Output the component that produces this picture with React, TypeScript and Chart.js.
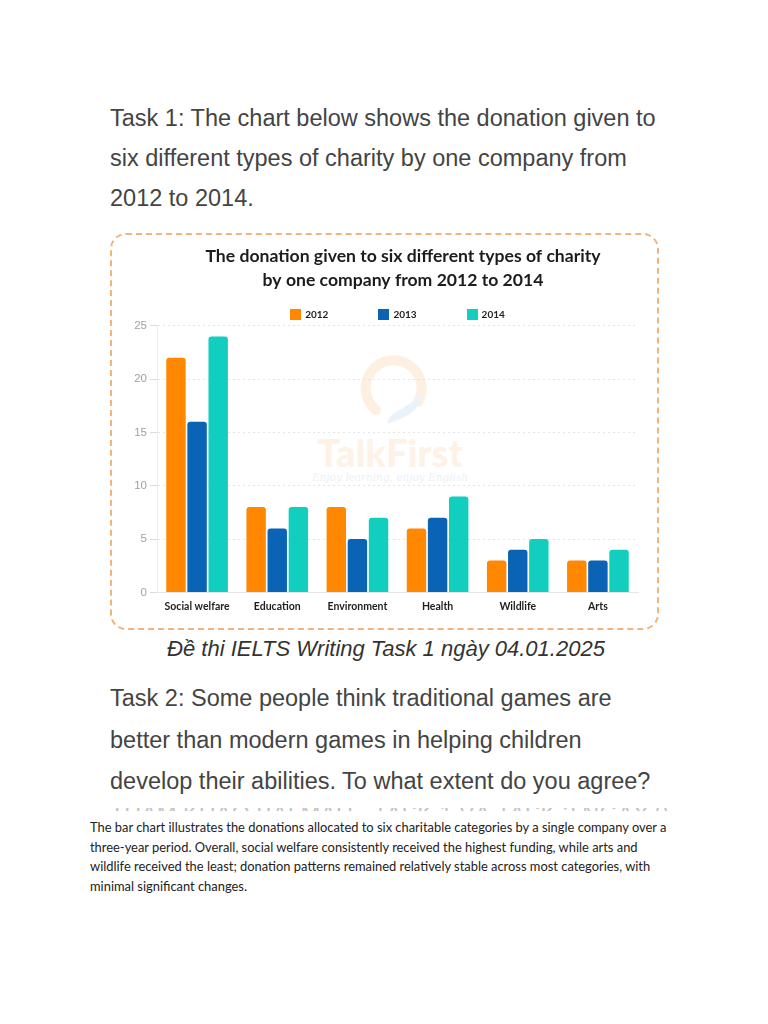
import { useEffect, useRef } from "react";
import { Chart, registerables } from "chart.js";

Chart.register(...registerables);

// Donations per charity type (arbitrary units) by year
const categories = ["Social welfare", "Education", "Environment", "Health", "Wildlife", "Arts"];
const years = ["2012", "2013", "2014"];
const donations2012 = [22, 8, 8, 6, 3, 3];
const donations2013 = [16, 6, 5, 7, 4, 3];
const donations2014 = [24, 8, 7, 9, 5, 4];
const seriesColors = ["#ff8800", "#0b63b5", "#11cebf"];
const yMax = 25;
const yStep = 5;

const chartTitle = [
  "The donation given to six different types of charity",
  "by one company from 2012 to 2014",
];

// Center the title over the plot area instead of the full canvas
const titleOverPlot = {
  id: "titleOverPlot",
  afterLayout(chart: any) {
    const t = chart.titleBlock;
    if (t) {
      t.left = chart.chartArea.left + 11;
      t.right = chart.chartArea.right;
    }
  },
};

function DonationChart() {
  const canvasRef = useRef<HTMLCanvasElement | null>(null);

  useEffect(() => {
    if (!canvasRef.current) return;
    const series = [donations2012, donations2013, donations2014];
    const chart = new Chart(canvasRef.current, {
      type: "bar",
      data: {
        labels: categories,
        datasets: years.map((y, i) => ({
          label: y,
          data: series[i],
          backgroundColor: seriesColors[i],
          borderRadius: 3,
          borderSkipped: "bottom",
          categoryPercentage: 0.79,
          barPercentage: 0.92,
        })),
      },
      plugins: [titleOverPlot],
      options: {
        animation: false,
        responsive: false,
        maintainAspectRatio: false,
        layout: { padding: { left: 0, right: 18, top: 0, bottom: 7 } },
        plugins: {
          legend: { display: false },
          tooltip: { enabled: false },
          title: {
            display: true,
            text: chartTitle,
            color: "#1c1c1c",
            font: { family: "Lato", size: 17.6, weight: "bold", lineHeight: 1.36 },
            padding: { top: 8, bottom: 34 },
          },
        },
        scales: {
          x: {
            grid: { display: false, drawTicks: false, tickLength: 0 },
            border: { display: true, color: "#e6e6e6", width: 1 },
            ticks: {
              color: "#1e1e1e",
              padding: 8,
              font: { family: "Lato", size: 10.5, weight: "bold" },
            },
          },
          y: {
            min: 0,
            max: yMax,
            afterFit: (scale: any) => {
              scale.width = 44;
            },
            ticks: {
              stepSize: yStep,
              color: "#a0a0a0",
              padding: 3,
              font: { family: "Liberation Sans", size: 11.5 },
            },
            grid: {
              color: "#e4e4e4",
              lineWidth: 1,
              tickLength: 7,
              tickColor: "#dcdcdc",
            },
            border: { display: true, color: "#eeeeee", dash: [2, 3] },
          },
        },
      },
    });
    return () => chart.destroy();
  }, []);

  return <canvas ref={canvasRef} width={543} height={392} style={{ display: "block" }} />;
}

function Legend() {
  return (
    <div
      style={{
        position: "absolute",
        left: 157,
        width: 481,
        top: 308,
        display: "flex",
        justifyContent: "center",
        gap: 50,
        fontFamily: "Lato",
        fontWeight: 700,
        fontSize: 10,
        color: "#222",
        lineHeight: "12px",
      }}
    >
      {years.map((y, i) => (
        <div key={y} style={{ display: "flex", alignItems: "center", gap: 4 }}>
          <span style={{ width: 11, height: 11, background: seriesColors[i], display: "inline-block" }} />
          <span>{y}</span>
        </div>
      ))}
    </div>
  );
}

function Watermark() {
  return (
    <div style={{ position: "absolute", left: 290, top: 352, width: 200, height: 135, pointerEvents: "none", opacity: 0.32 }}>
      <svg width="200" height="80" style={{ position: "absolute", left: 0, top: 0 }}>
        <path d="M 86 58 A 28 28 0 1 1 128 50" fill="none" stroke="#fcd3a2" strokeWidth="10" strokeLinecap="round" />
        <path d="M 132 42 C 128 64 110 66 98 72 C 96 62 112 58 122 50" fill="#c4dbf2" />
      </svg>
      <div
        style={{
          position: "absolute",
          top: 80,
          width: 200,
          textAlign: "center",
          fontFamily: "Lato",
          fontWeight: 900,
          fontSize: 38,
          color: "#fcd9b4",
          lineHeight: "40px",
        }}
      >
        TalkFirst
      </div>
      <div
        style={{
          position: "absolute",
          top: 119,
          width: 200,
          textAlign: "center",
          fontFamily: "DejaVu Serif",
          fontStyle: "italic",
          fontSize: 10.5,
          color: "#bcd2ec",
        }}
      >
        Enjoy learning, enjoy English
      </div>
    </div>
  );
}

export default function App() {
  const bodyText: React.CSSProperties = {
    position: "absolute",
    left: 110,
    fontFamily: "Liberation Sans",
    fontSize: 23.5,
    color: "#444",
    whiteSpace: "nowrap",
  };
  return (
    <div style={{ position: "absolute", left: 0, top: 0, width: 768, height: 1024, background: "#fff", overflow: "hidden" }}>
      <div style={{ ...bodyText, top: 98, lineHeight: "40px" }}>
        Task 1: The chart below shows the donation given to
        <br />
        six different types of charity by one company from
        <br />
        2012 to 2014.
      </div>

      <div
        style={{
          position: "absolute",
          left: 110,
          top: 233,
          width: 545,
          height: 393,
          border: "2px dashed #f1b47c",
          borderRadius: 16,
        }}
      />
      <Watermark />
      <div style={{ position: "absolute", left: 113, top: 236 }}>
        <DonationChart />
      </div>
      <Legend />

      <div
        style={{
          position: "absolute",
          left: 0,
          width: 772,
          top: 636,
          textAlign: "center",
          fontFamily: "Liberation Sans",
          fontStyle: "italic",
          fontSize: 22,
          lineHeight: "26px",
          color: "#333",
        }}
      >
        Đề thi IELTS Writing Task 1 ngày 04.01.2025
      </div>

      <div style={{ ...bodyText, top: 678, lineHeight: "41.5px" }}>
        Task 2: Some people think traditional games are
        <br />
        better than modern games in helping children
        <br />
        develop their abilities. To what extent do you agree?
      </div>

      <div style={{ position: "absolute", left: 110, top: 808, height: 3, width: 560, overflow: "hidden" }}>
        <div style={{ ...bodyText, left: 0, top: -6, lineHeight: "24px", color: "#c4c4c4" }}>
          THAM KHẢO BÀI MẪU - TASK 1 VÀ TASK 2 NGÀY 04.01.2025
        </div>
      </div>

      <div
        style={{
          position: "absolute",
          left: 90,
          top: 818,
          fontFamily: "Lato",
          fontSize: 12.9,
          lineHeight: "19.6px",
          color: "#222",
          whiteSpace: "nowrap",
        }}
      >
        The bar chart illustrates the donations allocated to six charitable categories by a single company over a
        <br />
        three-year period. Overall, social welfare consistently received the highest funding, while arts and
        <br />
        wildlife received the least; donation patterns remained relatively stable across most categories, with
        <br />
        minimal significant changes.
      </div>
    </div>
  );
}
